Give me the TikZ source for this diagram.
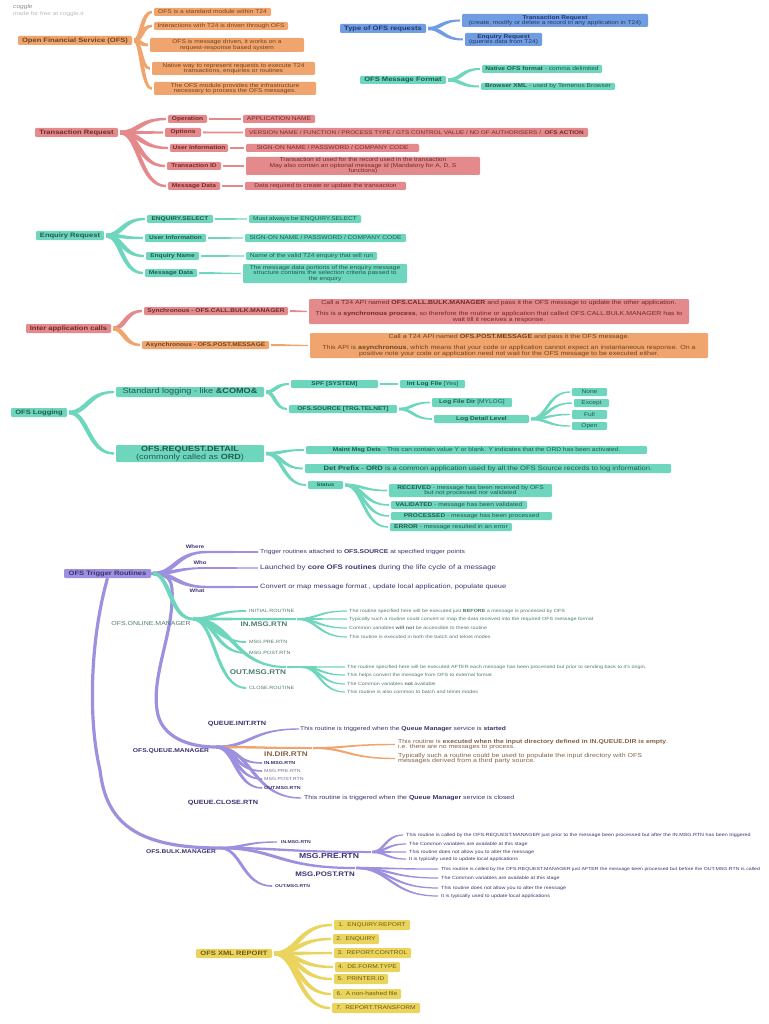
\documentclass[tikz,border=0pt]{standalone}
\usepackage{fontspec}
\setmainfont[FakeStretch=1.2]{Liberation Sans}
\usetikzlibrary{calc}
\pgfdeclarelayer{bg}\pgfsetlayers{bg,main}
\definecolor{orfill}{HTML}{F0A56E}\definecolor{ortext}{HTML}{6E4524}
\definecolor{refill}{HTML}{E58A8C}\definecolor{retext}{HTML}{6E2A2C}
\definecolor{grfill}{HTML}{6FD6BE}\definecolor{grtext}{HTML}{1F5A4C}
\definecolor{blfill}{HTML}{709CE2}\definecolor{bltext}{HTML}{22396A}
\definecolor{pufill}{HTML}{9C90DF}\definecolor{putext}{HTML}{3A3270}
\definecolor{yefill}{HTML}{EBD45E}\definecolor{yetext}{HTML}{6A5B14}
\tikzset{
 fs/.style={font=\fontsize{#1}{#1}\selectfont},
 box/.style={rounded corners=1.2pt,inner sep=0pt,align=center,fs=5.5},
 orbox/.style={box,fill=orfill,text=ortext},
 rebox/.style={box,fill=refill,text=retext},
 grbox/.style={box,fill=grfill,text=grtext},
 blbox/.style={box,fill=blfill,text=bltext},
 pubox/.style={box,fill=pufill,text=putext},
 yebox/.style={box,fill=yefill,text=yetext},
 lab/.style={inner sep=0pt,anchor=west,align=left,fs=4.5},
 grlab/.style={lab,text=grtext!80!white},
 pulab/.style={lab,text=putext},
 orlab/.style={lab,text=ortext!85!white},
 mid/.style={anchor=center},
}
\newcommand{\bx}[7][]{\node[#3,minimum width={(#6-#4)*1pt},minimum height={(#7-#5)*1pt},#1] (#2) at ({(#4+#6)/2},{(#5+#7)/2})}
\newcommand{\tx}[5][]{\node[#3,#1] (#2) at (#4,#5)}
\newcommand{\brx}[7]{\fill[#3] let \p1=(#4),\p2=(#5),\n1={\x1+#1},\n2={\x2-#2},\n3={\n1+0.42*(\n2-\n1)},\n4={ifthenelse(\y2>\y1,1,-1)*0.66*(#6+#7)*1pt} in
 (\n1,\y1+#6pt) .. controls ({\n3-\n4},\y1+#6pt) and ({\n3-\n4},\y2+#7pt) .. (\n2,\y2+#7pt) -- (\n2,\y2-#7pt) .. controls ({\n3+\n4},\y2-#7pt) and ({\n3+\n4},\y1-#6pt) .. (\n1,\y1-#6pt) -- cycle;}
\newcommand{\bb}{\brx{2pt}{2pt}}
\newcommand{\bj}{\brx{0pt}{1pt}}
\begin{document}
\begin{tikzpicture}[x=1pt,y=-1pt]
\clip (0,0) rectangle (768,1024);
\tx{logo}{lab,text=black!45,font=\fontsize{5.5}{5.5}\itshape\selectfont}{13}{7}{coggle};
\tx{made}{lab,text=black!28,fs=5.3}{13}{14}{made for free at coggle.it};
% ---- OFS
\bx[fs=6.3]{ofs}{orbox}{18}{36}{132}{45}{\textbf{Open Financial Service (OFS)}};
\bx{o1}{orbox}{154}{8}{271}{16}{OFS is a standard module within T24};
\bx{o2}{orbox}{154}{22}{288}{30}{Interactions with T24 is driven through OFS};
\bx{o3}{orbox}{150}{38}{304}{52}{OFS is message driven, it works on a\\request-response based system};
\bx{o4}{orbox}{152}{62}{315}{75}{Native way to represent requests to execute T24\\transactions, enquiries or routines};
\bx{o5}{orbox}{154}{82}{316}{95}{The OFS module provides the infrastructure\\necessary to process the OFS messages.};
% ---- Types
\bx[fs=6.3]{ty}{blbox}{340}{24}{426}{33}{\textbf{Type of OFS requests}};
\bx{ty1}{blbox}{462}{14}{648}{27}{\textbf{Transaction Request}\\(create, modify or delete a record in any application in T24)};
\bx{ty2}{blbox}{465}{33}{542}{46}{\textbf{Enquiry Request}\\(queries data from T24)};
\bx[fs=6.3]{mf}{grbox}{360}{76}{446}{84}{\textbf{OFS Message Format}};
\bx{mf1}{grbox}{482}{65}{602}{73}{\textbf{Native OFS format} - comma delimited};
\bx{mf2}{grbox}{481}{83}{615}{90}{\textbf{Browser XML} - used by Temenos Browser};
% ---- Transaction Request
\bx[fs=6.3]{tr}{rebox}{35}{128}{118}{137}{\textbf{Transaction Request}};
\bx{tr1}{rebox}{168}{115}{207}{123}{\textbf{Operation}};
\bx{tr2}{rebox}{165}{128}{201}{137}{\textbf{Options}};
\bx{tr3}{rebox}{170}{144}{228}{152}{\textbf{User Information}};
\bx{tr4}{rebox}{167}{162}{221}{170}{\textbf{Transaction ID}};
\bx{tr5}{rebox}{168}{182}{220}{190}{\textbf{Message Data}};
\bx{trv1}{rebox}{243}{115}{315}{123}{APPLICATION NAME};
\bx[fs=5.3]{trv2}{rebox}{245}{128}{588}{137}{VERSION NAME / FUNCTION / PROCESS TYPE / GTS CONTROL VALUE / NO OF AUTHORISERS /\ \ \textbf{OFS ACTION}};
\bx{trv3}{rebox}{246}{144}{419}{152}{SIGN-ON NAME / PASSWORD / COMPANY CODE};
\bx{trv4}{rebox}{246}{157}{480}{175}{Transaction id used for the record used in the transaction\\May also contain an optional message id (Mandatory for A, D, S\\functions)};
\bx{trv5}{rebox}{245}{182}{406}{190}{Data required to create or update the transaction};
% ---- Enquiry
\bx[fs=6.3]{en}{grbox}{36}{231}{104}{240}{\textbf{Enquiry Request}};
\bx{en1}{grbox}{147}{215}{213}{223}{\textbf{ENQUIRY.SELECT}};
\bx{en2}{grbox}{145}{234}{206}{242}{\textbf{User Information}};
\bx{en3}{grbox}{146}{252}{199}{260}{\textbf{Enquiry Name}};
\bx{en4}{grbox}{145}{269}{197}{277}{\textbf{Message Data}};
\bx{env1}{grbox}{249}{215}{361}{223}{Must always be ENQUIRY.SELECT};
\bx{env2}{grbox}{245}{234}{406}{242}{SIGN-ON NAME / PASSWORD / COMPANY CODE};
\bx{env3}{grbox}{246}{252}{377}{260}{Name of the valid T24 enquiry that will run};
\bx{env4}{grbox}{243}{264}{407}{283}{The message data portions of the enquiry message\\structure contains the selection criteria passed to\\the enquiry};
% ---- Inter application
\bx[fs=6.3]{ia}{rebox}{26}{324}{111}{333}{\textbf{Inter application calls}};
\bx{ia1}{rebox}{144}{307}{288}{315}{\textbf{Synchronous - OFS.CALL.BULK.MANAGER}};
\bx{ia2}{orbox}{142}{341}{269}{349}{\textbf{Asynchronous - OFS.POST.MESSAGE}};
\bx[fs=5.8]{iav1}{rebox}{309}{299}{689}{324}{Call a T24 API named \textbf{OFS.CALL.BULK.MANAGER} and pass it the OFS message to update the other application.\\[4.5pt]This is a \textbf{synchronous process}, so therefore the routine or application that called OFS.CALL.BULK.MANAGER has to\\wait till it receives a response.};
\bx[fs=5.9]{iav2}{orbox}{310}{333}{708}{358}{Call a T24 API named \textbf{OFS.POST.MESSAGE} and pass it the OFS message.\\[4.5pt]This API is \textbf{asynchronous}, which means that your code or application cannot expect an instantaneous response. On a\\positive note your code or application need not wait for the OFS message to be executed either.};
% ---- Logging
\bx[fs=6.3]{lg}{grbox}{11}{408}{67}{417}{\textbf{OFS Logging}};
\bx[fs=7.6]{lg1}{grbox}{116}{387}{264}{397}{Standard logging - like \textbf{\&COMO\&}};
\bx[fs=7.5]{lg2}{grbox}{116}{445}{264}{462}{\textbf{OFS.REQUEST.DETAIL}\\(commonly called as \textbf{ORD})};
\bx{sp}{grbox}{291}{380}{378}{388}{\textbf{SPF [SYSTEM]}};
\bx{so}{grbox}{289}{405}{397}{413}{\textbf{OFS.SOURCE [TRG.TELNET]}};
\bx{il}{grbox}{400}{380}{465}{388}{\textbf{Int Log File} [Yes]};
\bx{ld}{grbox}{432}{398}{512}{407}{\textbf{Log File Dir} [MYLOG]};
\bx{ll}{grbox}{434}{415}{529}{423}{\textbf{Log Detail Level}};
\bx{l1}{grbox}{572}{388}{607}{396}{None};
\bx{l2}{grbox}{574}{399}{609}{407}{Except};
\bx{l3}{grbox}{572}{410}{607}{419}{Full};
\bx{l4}{grbox}{572}{422}{607}{430}{Open};
\bx{md}{grbox}{306}{446}{647}{454}{\textbf{Maint Msg Dets} - This can contain value Y or blank. Y indicates that the ORD has been activated.};
\bx[fs=6.35]{dp}{grbox}{305}{464}{671}{473}{\textbf{Det Prefix} - \textbf{ORD} is a common application used by all the OFS Source records to log information.};
\bx[fs=4.8]{st}{grbox}{308}{481}{343}{489}{\textbf{Status}};
\bx{s1}{grbox}{389}{484}{552}{497}{\textbf{RECEIVED} - message has been received by OFS\\but not processed nor validated};
\bx{s2}{grbox}{391}{501}{527}{509}{\textbf{VALIDATED} - message has been validated};
\bx{s3}{grbox}{391}{512}{552}{520}{\textbf{PROCESSED} - message has been processed};
\bx{s4}{grbox}{390}{523}{512}{531}{\textbf{ERROR} - message resulted in an error};
% ---- Trigger
\bx[fs=6.3]{tg}{pubox}{64}{569}{151}{578}{\textbf{OFS Trigger Routines}};
\tx{wh}{pulab,mid,fs=5}{195}{547}{\textbf{Where}};
\tx{wo}{pulab,mid,fs=5}{200}{563}{\textbf{Who}};
\tx{wa}{pulab,mid,fs=5}{197}{591}{\textbf{What}};
\coordinate (whj) at (207,552);\coordinate (woj) at (207,568);\coordinate (waj) at (207,587);
\tx{whv}{pulab,fs=5.6}{260}{552}{Trigger routines attached to \textbf{OFS.SOURCE} at specified trigger points};
\tx{wov}{pulab,fs=6.6}{260}{568}{Launched by \textbf{core OFS routines} during the life cycle of a message};
\tx{wav}{pulab,fs=6.2}{260}{587}{Convert or map message format , update local application, populate queue};
\tx{om}{grlab,mid,fs=5.8}{151}{623}{OFS.ONLINE.MANAGER};
\coordinate (omj) at (193,619);
\tx{ir}{grlab,fs=4.6}{249}{611}{INITIAL.ROUTINE};
\tx[fs=6.6]{im}{grlab,mid}{264}{624}{\textbf{IN.MSG.RTN}};
\coordinate (imj) at (297,619);
\tx{mp}{grlab,fs=4.6}{249}{642}{MSG.PRE.RTN};
\tx{mq}{grlab,fs=4.6}{249}{653}{MSG.POST.RTN};
\tx[fs=6.8]{ot}{grlab,mid}{258}{672}{\textbf{OUT.MSG.RTN}};
\coordinate (otj) at (287,667);
\tx{cr}{grlab,fs=4.6}{249}{688}{CLOSE.ROUTINE};
\tx{i1}{grlab}{349}{611}{The routine specified here will be executed just \textbf{BEFORE} a message is processed by OFS};
\tx{i2}{grlab}{349}{619}{Typically such a routine could convert or map the data received into the required OFS message format};
\tx{i3}{grlab}{349}{628}{Common variables \textbf{will not} be accessible to these routine};
\tx{i4}{grlab}{349}{637}{This routine is executed in both the batch and telnet modes};
\tx{u1}{grlab}{347}{667}{The routine specified here will be executed AFTER each message has been processed but prior to sending back to it's origin.};
\tx{u2}{grlab}{347}{675}{This helps convert the message from OFS to external format};
\tx{u3}{grlab}{347}{684}{The Common variables \textbf{not} available};
\tx{u4}{grlab}{347}{692}{This routine is also common to batch and telnet modes};
% ---- Queue manager
\tx{qm}{pulab,mid,fs=5.6}{171}{751}{\textbf{OFS.QUEUE.MANAGER}};
\coordinate (qmj) at (216,747);
\tx{qi}{pulab,mid,fs=6.1}{237}{724}{\textbf{QUEUE.INIT.RTN}};
\tx{qiv}{pulab,fs=5.6}{300}{729}{This routine is triggered when the \textbf{Queue Manager} service is \textbf{started}};
\tx[fs=6.8]{id}{orlab,mid}{286}{754}{\textbf{IN.DIR.RTN}};
\coordinate (idj) at (313,748);
\tx{id1}{orlab,fs=5.7}{398}{744.5}{This routine is \textbf{executed when the input directory defined in IN.QUEUE.DIR is empty}.\\i.e. there are no messages to process.};
\tx{id2}{orlab,fs=5.85}{398}{758.5}{Typically such a routine could be used to populate the input directory with OFS\\messages derived from a third party source.};
\tx{q1}{pulab,fs=4.4}{264}{763}{\textbf{IN.MSG.RTN}};
\tx{q2}{pulab,fs=4.4,text=putext!70!white}{264}{771}{MSG.PRE.RTN};
\tx{q3}{pulab,fs=4.4,text=putext!70!white}{264}{779}{MSG.POST.RTN};
\tx{q4}{pulab,fs=4.4}{264}{788}{\textbf{OUT.MSG.RTN}};
\tx{qc}{pulab,mid,fs=6.1}{223}{803}{\textbf{QUEUE.CLOSE.RTN}};
\tx{qcv}{pulab,fs=5.8}{304}{798}{This routine is triggered when the \textbf{Queue Manager} service is closed};
% ---- Bulk manager
\tx{bm}{pulab,mid,fs=5.5}{181}{852}{\textbf{OFS.BULK.MANAGER}};
\coordinate (bmj) at (220,848);
\tx{b1}{pulab,fs=4.2}{281}{842}{\textbf{IN.MSG.RTN}};
\tx[fs=7.2]{b2}{pulab,mid}{329}{856}{\textbf{MSG.PRE.RTN}};
\coordinate (b2j) at (372,852);
\tx[fs=6.6]{b3}{pulab,mid}{325}{874}{\textbf{MSG.POST.RTN}};
\coordinate (b3j) at (356,868);
\tx{b4}{pulab,fs=4.2}{275}{886}{\textbf{OUT.MSG.RTN}};
\tx{p1}{pulab}{406}{835}{This routine is called by the OFS.REQUEST.MANAGER just prior to the message been processed but after the IN.MSG.RTN has been triggered};
\tx{p2}{pulab}{409}{844}{The Common variables are available at this stage};
\tx{p3}{pulab}{409}{852}{This routine does not allow you to alter the message};
\tx{p4}{pulab}{409}{859}{It is typically used to update local applications};
\tx[fs=4.35]{r1}{pulab}{441}{869}{This routine is called by the OFS.REQUEST.MANAGER just AFTER the message been processed but before the OUT.MSG.RTN is called};
\tx{r2}{pulab}{441}{878}{The Common variables are available at this stage};
\tx{r3}{pulab}{441}{888}{This routine does not allow you to alter the message};
\tx{r4}{pulab}{441}{896}{It is typically used to update local applications};
% ---- XML
\bx[fs=6.3]{xm}{yebox}{196}{949}{272}{958}{\textbf{OFS XML REPORT}};
\bx{x1}{yebox}{334}{920}{410}{930}{1.\ \ ENQUIRY.REPORT};
\bx{x2}{yebox}{333}{934}{379}{944}{2.\ \ ENQUIRY};
\bx{x3}{yebox}{334}{948}{411}{958}{3.\ \ REPORT.CONTROL};
\bx{x4}{yebox}{335}{962}{400}{972}{4.\ \ DE.FORM.TYPE};
\bx{x5}{yebox}{334}{974}{388}{984}{5.\ \ PRINTER.ID};
\bx{x6}{yebox}{333}{989}{401}{999}{6.\ \ A non-hashed file};
\bx{x7}{yebox}{332}{1003}{420}{1013}{7.\ \ REPORT.TRANSFORM};
% ---- connectors
\begin{pgfonlayer}{bg}
\foreach \k in {o1,o2,o3,o4,o5} {\bb{orfill}{ofs.east}{\k.west}{2.0}{1.3}}
\foreach \k in {ty1,ty2} {\bb{blfill}{ty.east}{\k.west}{1.6}{1.0}}
\foreach \k in {mf1,mf2} {\bb{grfill}{mf.east}{\k.west}{1.6}{1.0}}
\foreach \k in {tr1,tr2,tr3,tr4,tr5} {\bb{refill}{tr.east}{\k.west}{2.0}{1.2}}
\foreach \a/\b in {tr1/trv1,tr2/trv2,tr3/trv3,tr4/trv4,tr5/trv5} {\bb{refill}{\a.east}{\b.west}{1.0}{0.8}}
\foreach \k in {en1,en2,en3,en4} {\bb{grfill}{en.east}{\k.west}{2.0}{1.2}}
\foreach \a/\b in {en1/env1,en2/env2,en3/env3,en4/env4} {\bb{grfill}{\a.east}{\b.west}{1.0}{0.7}}
\bb{refill}{ia.east}{ia1.west}{2.0}{1.2}
\bb{orfill}{ia.east}{ia2.west}{2.0}{1.2}
\bb{refill}{ia1.east}{iav1.west}{1.0}{0.7}
\bb{orfill}{ia2.east}{iav2.west}{1.0}{0.7}
\foreach \k in {lg1,lg2} {\bb{grfill}{lg.east}{\k.west}{2.0}{1.2}}
\foreach \k in {sp,so} {\bb{grfill}{lg1.east}{\k.west}{1.6}{1.0}}
\bb{grfill}{sp.east}{il.west}{1.0}{0.8}
\foreach \k in {ld,ll} {\bb{grfill}{so.east}{\k.west}{1.3}{0.8}}
\foreach \k in {l1,l2,l3,l4} {\bb{grfill}{ll.east}{\k.west}{1.3}{0.7}}
\foreach \k in {md,dp,st} {\bb{grfill}{lg2.east}{\k.west}{1.6}{0.9}}
\foreach \k in {s1,s2,s3,s4} {\bb{grfill}{st.east}{\k.west}{1.4}{0.8}}
% purple trunks
\draw[pufill,line width=3.2pt] (tg.south) .. controls (90,640) and (88,720) .. (100,770) .. controls (106,822) and (135,848) .. (bmj);
\draw[pufill,line width=3.2pt] (tg.east) .. controls (170,574) and (173,580) .. (172,600) .. controls (171,640) and (150,680) .. (158,715) .. controls (163,735) and (185,747) .. (qmj);
\brx{2pt}{0pt}{pufill}{tg.east}{whj}{1.8}{1.2}
\brx{2pt}{0pt}{pufill}{tg.east}{woj}{1.8}{0.9}
\brx{2pt}{0pt}{pufill}{tg.east}{waj}{1.8}{1.2}
\brx{0pt}{2pt}{pufill}{whj}{whv.west}{1.2}{0.9}
\brx{0pt}{2pt}{pufill}{woj}{wov.west}{0.9}{0.7}
\brx{0pt}{2pt}{pufill}{waj}{wav.west}{1.2}{0.9}
\brx{2pt}{0pt}{grfill}{tg.east}{omj}{1.8}{1.4}
\foreach \k in {ir,mp,mq,cr} {\brx{0pt}{3pt}{grfill}{omj}{\k.west}{1.6}{0.9}}
\bj{grfill}{omj}{imj}{1.4}{1.0}
\bj{grfill}{omj}{otj}{1.6}{1.0}
\foreach \k in {i1,i2,i3,i4} {\brx{0pt}{2pt}{grfill}{imj}{\k.west}{1.0}{0.6}}
\brx{0pt}{2pt}{grfill}{otj}{u1.west}{1.0}{0.6}
\foreach \k in {u2,u3,u4} {\brx{15pt}{2pt}{grfill}{otj}{\k.west}{1.0}{0.6}}
% queue
\bj{pufill}{qmj}{qiv.west}{1.4}{0.7}
\bj{orfill}{qmj}{idj}{1.3}{1.0}
\foreach \k in {id1,id2} {\brx{0pt}{3pt}{orfill}{idj}{\k.west}{1.0}{0.7}}
\foreach \k in {q1,q2,q3,q4} {\brx{0pt}{2pt}{pufill}{qmj}{\k.west}{1.5}{0.8}}
\brx{0pt}{3pt}{pufill}{qmj}{qcv.west}{1.5}{0.7}
% bulk
\brx{0pt}{4pt}{pufill}{bmj}{b1.west}{1.3}{0.7}
\bj{pufill}{bmj}{b2j}{1.2}{1.0}
\bj{pufill}{bmj}{b3j}{1.3}{1.1}
\brx{0pt}{3pt}{pufill}{bmj}{b4.west}{1.3}{0.8}
\foreach \k in {p1,p2,p3,p4} {\brx{0pt}{3pt}{pufill}{b2j}{\k.west}{1.1}{0.6}}
\foreach \k in {r1,r2,r3,r4} {\brx{0pt}{3pt}{pufill}{b3j}{\k.west}{1.1}{0.6}}
\foreach \k in {x1,x2,x3,x4,x5,x6,x7} {\bb{yefill}{xm.east}{\k.west}{2.0}{1.2}}
\end{pgfonlayer}
\end{tikzpicture}
\end{document}
